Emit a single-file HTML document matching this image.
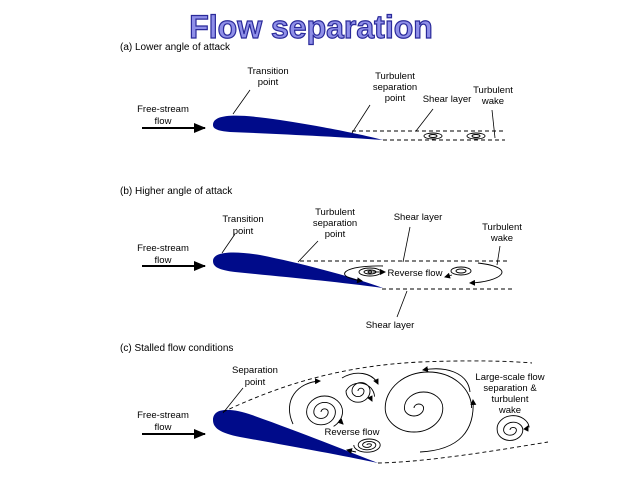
<!DOCTYPE html>
<html><head><meta charset="utf-8"><style>
html,body{margin:0;padding:0;background:#fff;}
svg{display:block;font-family:"Liberation Sans",sans-serif;}
</style></head><body>
<svg width="638" height="478" viewBox="0 0 638 478" xmlns="http://www.w3.org/2000/svg">
<defs><marker id="ah" markerWidth="6" markerHeight="6" refX="5" refY="3" orient="auto" markerUnits="userSpaceOnUse"><path d="M0,0 L6,3 L0,6 Z" fill="#000"/></marker>
<marker id="big" markerWidth="12" markerHeight="10" refX="11" refY="5" orient="auto" markerUnits="userSpaceOnUse"><path d="M0,0 L12,5 L0,10 Z" fill="#000"/></marker></defs>
<text x="311" y="38" text-anchor="middle" font-size="32" font-weight="bold" fill="#8f8fe8" stroke="#2a2a9a" stroke-width="1.2">Flow separation</text>
<g font-size="10" fill="#000">
<text x="120" y="50">(a) Lower angle of attack</text>
<text x="120" y="194">(b) Higher angle of attack</text>
<text x="120" y="351">(c) Stalled flow conditions</text>
</g>
<g font-size="9.5" fill="#000" text-anchor="middle">
<text x="163" y="112">Free-stream</text><text x="163" y="124">flow</text>
<text x="268" y="74">Transition</text><text x="268" y="85">point</text>
<text x="395" y="79">Turbulent</text><text x="395" y="90">separation</text><text x="395" y="101">point</text>
<text x="447" y="102">Shear layer</text>
<text x="493" y="93">Turbulent</text><text x="493" y="104">wake</text>
<text x="163" y="251">Free-stream</text><text x="163" y="263">flow</text>
<text x="243" y="222">Transition</text><text x="243" y="234">point</text>
<text x="335" y="215">Turbulent</text><text x="335" y="226">separation</text><text x="335" y="237">point</text>
<text x="418" y="220">Shear layer</text>
<text x="502" y="230">Turbulent</text><text x="502" y="241">wake</text>
<text x="415" y="276">Reverse flow</text>
<text x="390" y="328">Shear layer</text>
<text x="163" y="418">Free-stream</text><text x="163" y="430">flow</text>
<text x="255" y="373">Separation</text><text x="255" y="385">point</text>
<text x="352" y="435">Reverse flow</text>
<text x="510" y="380">Large-scale flow</text><text x="510" y="391">separation &amp;</text><text x="510" y="402">turbulent</text><text x="510" y="413">wake</text>
</g>
<g fill="#000b8a">
<path d="M213,125 C213,113 240,114 280,120 C320,126 360,134 383,140 C340,137 280,134 230,132 C218,131 213,129 213,125 Z"/>
<path d="M213,261 C213,251 235,251 260,255 C300,263 350,276 383,288 C340,282 285,277 235,272 C219,270 213,267 213,261 Z"/>
<path d="M213,420 C213,407 232,408 252,415 C300,432 350,452 378,463 C340,455 290,446 240,437 C220,433 213,428 213,420 Z"/>
</g>
<g stroke="#000" stroke-width="2" marker-end="url(#big)">
<line x1="142" y1="128" x2="205" y2="128"/>
<line x1="142" y1="266" x2="205" y2="266"/>
<line x1="142" y1="434" x2="205" y2="434"/>
</g>
<g stroke="#000" stroke-width="0.8" fill="none">
<line x1="250" y1="90" x2="233" y2="114"/>
<line x1="370" y1="105" x2="352" y2="133"/>
<line x1="433" y1="109" x2="416" y2="131"/>
<line x1="492" y1="110" x2="495" y2="138"/>
<line x1="235" y1="234" x2="222" y2="253"/>
<line x1="318" y1="241" x2="298" y2="262"/>
<line x1="410" y1="227" x2="403" y2="262"/>
<line x1="500" y1="246" x2="497" y2="265"/>
<line x1="407" y1="291" x2="397" y2="317"/>
<line x1="243" y1="388" x2="223" y2="413"/>
</g>
<g stroke="#000" stroke-width="0.9" fill="none" stroke-dasharray="4,3">
<line x1="352" y1="131" x2="505" y2="131"/>
<line x1="383" y1="140" x2="505" y2="140"/>
<line x1="300" y1="261" x2="507" y2="261"/>
<line x1="382" y1="289" x2="514" y2="289"/>
<path d="M223,412 C280,385 340,366 420,362 C470,360 510,361 532,363"/>
<path d="M378,463 C420,462 470,455 548,442"/>
</g>
<g stroke="#000" stroke-width="0.9" fill="none">
<ellipse cx="433" cy="136" rx="9" ry="3"/><ellipse cx="433" cy="136" rx="4" ry="1.5"/>
<ellipse cx="476" cy="136" rx="9" ry="3"/><ellipse cx="476" cy="136" rx="4" ry="1.5"/>
<path d="M478,263 C520,268 500,282 470,283" marker-end="url(#ah)"/>
<path d="M383,266 C345,265 330,276 362,281" marker-end="url(#ah)"/>
<ellipse cx="370" cy="272" rx="11" ry="4"/><ellipse cx="370" cy="272" rx="6" ry="2"/><ellipse cx="370" cy="272" rx="2" ry="1"/>
<line x1="373" y1="272" x2="385" y2="272" marker-end="url(#ah)"/>
<ellipse cx="461" cy="271" rx="10" ry="4"/><ellipse cx="461" cy="271" rx="5" ry="2"/>
<line x1="452" y1="275" x2="445" y2="277" marker-end="url(#ah)"/>

<path transform="translate(321,412) scale(1.8,1.6)" vector-effect="non-scaling-stroke" d="M0,0 a2,2 0 0 1 4,0 a4,4 0 0 1 -8,0 a6,6 0 0 1 12,0 a8,8 0 0 1 -16,0 a10,10 0 0 1 20,0 a12,12 0 0 1 -5,9"/>
<path d="M339,420 L343,424" marker-end="url(#ah)"/>
<path d="M293,424 C282,400 298,382 320,381" marker-end="url(#ah)"/>
<path transform="translate(358,391) scale(1.5,1.4)" vector-effect="non-scaling-stroke" d="M0,0 a2,2 0 0 1 4,0 a4,4 0 0 1 -8,0 a6,6 0 0 1 12,0 a8,8 0 0 1 -16,0 a10,10 0 0 1 19,4"/>
<path d="M370,397 L372,401" marker-end="url(#ah)"/>
<path d="M342,378 C355,370 372,372 378,384" marker-end="url(#ah)"/>
<path transform="translate(414,408) scale(2.4,2.0)" vector-effect="non-scaling-stroke" d="M0,0 a2,2 0 0 1 4,0 a4,4 0 0 1 -8,0 a8,8 0 0 1 16,0 a12,12 0 0 1 -24,0 a18,18 0 0 1 36,0"/>
<path d="M386,408 C386,430 400,442 418,442" stroke="none"/>
<path d="M420,452 C460,450 475,430 473,400" marker-end="url(#ah)"/>
<path d="M470,392 C468,372 445,366 423,370" marker-end="url(#ah)"/>
<path transform="translate(367,445) scale(1.1,0.6)" vector-effect="non-scaling-stroke" d="M0,0 a2,2 0 0 1 4,0 a4,4 0 0 1 -8,0 a6,6 0 0 1 12,0 a8,8 0 0 1 -16,0 a10,10 0 0 1 20,0 a12,12 0 0 1 -24,0"/>
<line x1="356" y1="452" x2="347" y2="450" marker-end="url(#ah)"/>
<path transform="translate(510,430) scale(1.6,1.3)" vector-effect="non-scaling-stroke" d="M0,0 a2,2 0 0 1 4,0 a4,4 0 0 1 -8,0 a6,6 0 0 1 12,0 a8,8 0 0 1 -16,0 a10,10 0 0 1 20,-2"/>
<path d="M526,430 L528,426" marker-end="url(#ah)"/>
</g>
</svg>
</body></html>
